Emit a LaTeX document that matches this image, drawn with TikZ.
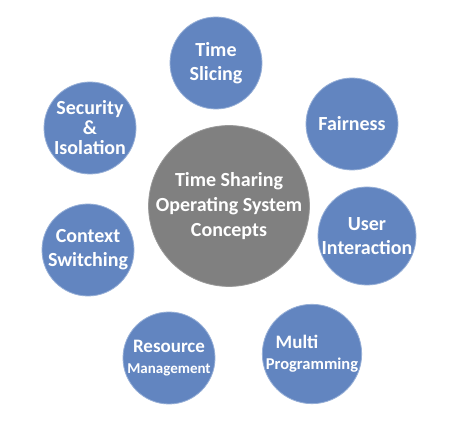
\documentclass[tikz,border=0pt]{standalone}
\usepackage{fontspec}
\setmainfont{Carlito}
\definecolor{cblue}{RGB}{98,133,192}
\definecolor{cblueedge}{RGB}{150,175,215}
\definecolor{cgray}{RGB}{128,128,128}
\begin{document}
\begin{tikzpicture}[x=1pt,y=1pt,
  small/.style={circle, fill=cblue, draw=cblueedge, line width=0.8pt, minimum size=92pt, inner sep=0pt,
    text=white, font=\bfseries\fontsize{20}{24}\selectfont, align=center},
  big/.style={circle, fill=cgray, draw=cgray!80, line width=0.8pt, minimum size=140pt, inner sep=0pt,
    text=white, font=\bfseries\fontsize{20}{25}\selectfont, align=center}]
\useasboundingbox[fill=white] (0,0) rectangle (474,430);
\node[big] (core) at (229,224) {Time Sharing\\Operating System\\Concepts};
\node[small] (slice) at (216,367) {Time\\Slicing};
\node[small] (fair) at (352,306) {Fairness};
\node[small] (user) at (367,194) {User\\Interaction};
\node[small] (multi) at (312,76) {\hspace*{-30pt}{\fontsize{19}{22}\selectfont Multi}\\[-3pt]{\fontsize{16.5}{20}\selectfont Programming}};
\node[small] (res) at (169,72) {{\fontsize{19}{22}\selectfont Resource}\\[-3pt]{\fontsize{15}{18}\selectfont Management}};
\node[small] (ctx) at (88,180) {Context\\Switching};
\node[small] (sec) at (90,302) {Security\\[-4pt]\&\\[-4pt]Isolation};
\end{tikzpicture}
\end{document}
